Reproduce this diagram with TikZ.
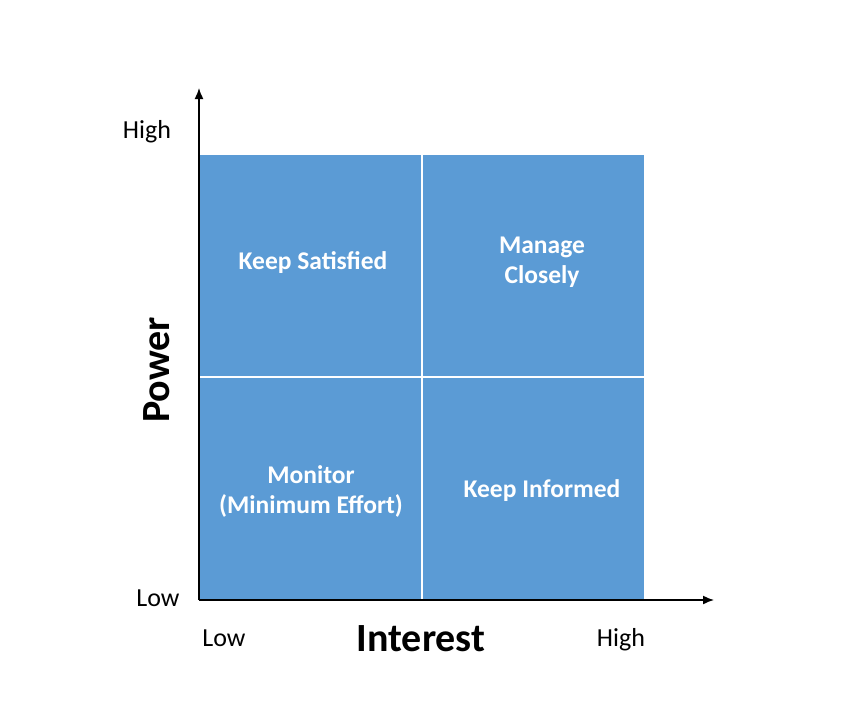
\documentclass[tikz,border=0pt]{standalone}
\usepackage{fontspec}
\setmainfont{Carlito}
\usetikzlibrary{arrows.meta}
\definecolor{quadblue}{HTML}{5B9BD5}
\tikzstyle{quad}=[rectangle,fill=quadblue,minimum width=221pt,minimum height=221pt,inner sep=0pt]
\tikzstyle{quadtext}=[text=white,font=\fontsize{25.5}{30}\selectfont\bfseries,align=center]
\tikzstyle{axis}=[draw,line width=1.5pt,-{Latex[length=11pt,width=9pt]}]
\tikzstyle{tick}=[font=\fontsize{26}{30}\selectfont]
\tikzstyle{axistitle}=[font=\fontsize{40}{46}\selectfont\bfseries]

\begin{document}
\begin{tikzpicture}[x=1pt,y=-1pt]
    \useasboundingbox (0,0) rectangle (845,725);
    % Draw the four quadrants
    \foreach \pos/ \name in {{(310.5,265.5)/ks},{(533,265.5)/mc},{(310.5,488.5)/mo},{(533,488.5)/ki}}
        \node[quad] (\name) at \pos {};

    % Quadrant texts
    \node[quadtext] (ksl) at (313,263) {Keep Satisfied};
    \node[quadtext] (mcl) at (542,262) {Manage\\Closely};
    \node[quadtext] (mol) at (311,491) {Monitor\\(Minimum Effort)};
    \node[quadtext] (kil) at (542,491) {Keep Informed};

    % Axes
    \coordinate (o) at (199,600);
    \coordinate (ytip) at (199,88);
    \coordinate (xtip) at (714,600);
    \path[axis] (o) -- (ytip);
    \path[axis] (o) -- (xtip);

    \node[tick] (yhigh) at (147,132) {High};
    \node[tick] (ylow) at (158,598) {Low};
    \node[tick] (xlow) at (224,638) {Low};
    \node[tick] (xhigh) at (621,640) {High};

    \node[axistitle,rotate=90] (power) at (157,370) {Power};
    \node[axistitle] (interest) at (421,639) {Interest};
\end{tikzpicture}
\end{document}
